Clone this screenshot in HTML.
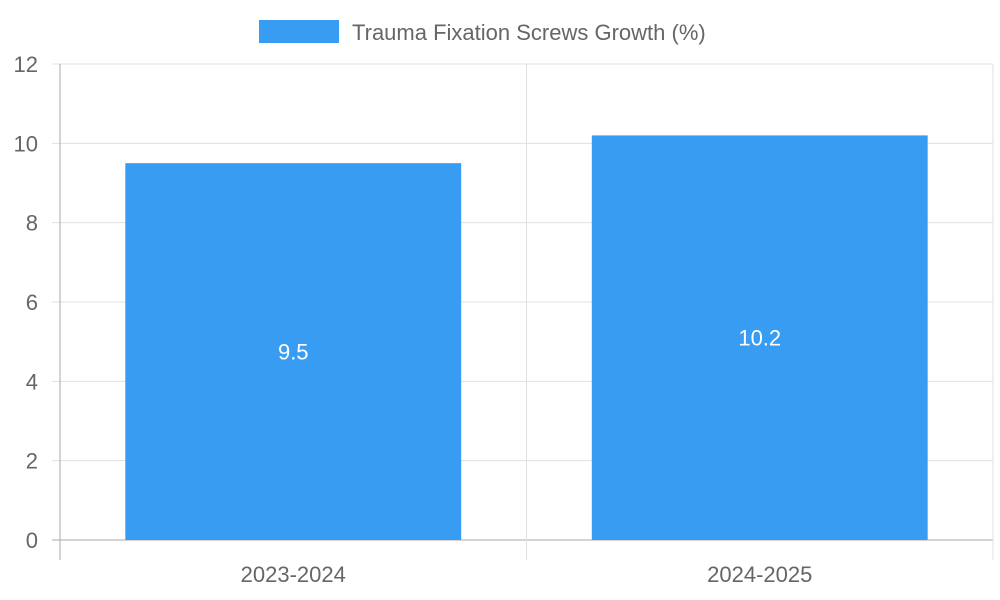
<!DOCTYPE html>
<html><head><meta charset="utf-8"><style>body{margin:0;background:#fff}svg{display:block;font-family:"Liberation Sans",sans-serif}</style></head>
<body>
<svg id="chart" width="1000" height="600"></svg>
<script>
const categories=["2023-2024","2024-2025"];
const values=[9.5,10.2];
const yTicks=[0,2,4,6,8,10,12];
const seriesName="Trauma Fixation Screws Growth (%)";
const NS="http://www.w3.org/2000/svg";
const svg=document.getElementById('chart');
const L=60,R=993,T=64,B=540,yMax=12;
const y=v=>B-(v/yMax)*(B-T);
const cw=(R-L)/categories.length;
const x=i=>L+cw*i;
function mk(t,a,txt){const e=document.createElementNS(NS,t);for(const k in a)e.setAttribute(k,a[k]);if(txt!==undefined)e.textContent=txt;svg.appendChild(e);return e;}
yTicks.forEach(t=>{
 const g=mk('line',{x1:L-8,x2:R,y1:y(t),y2:y(t),stroke:t===0?'#aaa':'#e0e0e0','stroke-width':1});
 
 
 const lb=mk('text',{x:38,y:y(t)+8,'text-anchor':'end','font-size':22,fill:'#666'},t);
 
 
});
for(let i=0;i<=categories.length;i++){
 const g=mk('line',{x1:x(i),x2:x(i),y1:T,y2:B+20,stroke:i===0?'#aaa':'#e0e0e0','stroke-width':1});
 
 
}
categories.forEach((c,i)=>{
 const bw=cw*0.72, bx=x(i)+(cw-bw)/2;
 const r=mk('rect',{x:bx,y:y(values[i]),width:bw,height:B-y(values[i]),fill:'#389cf2'});
 
 
 const v=mk('text',{x:x(i)+cw/2,y:(y(values[i])+B)/2+8,'text-anchor':'middle','font-size':22,fill:'#fff'},values[i]);
 
 
 const lb=mk('text',{x:x(i)+cw/2,y:582,'text-anchor':'middle','font-size':22,fill:'#666'},c);
 
 
});
const lr=mk('rect',{x:259,y:20,width:80,height:23,fill:'#389cf2'});


const lt=mk('text',{x:352,y:40,'font-size':22,fill:'#666'},seriesName);


</script>
</body></html>
